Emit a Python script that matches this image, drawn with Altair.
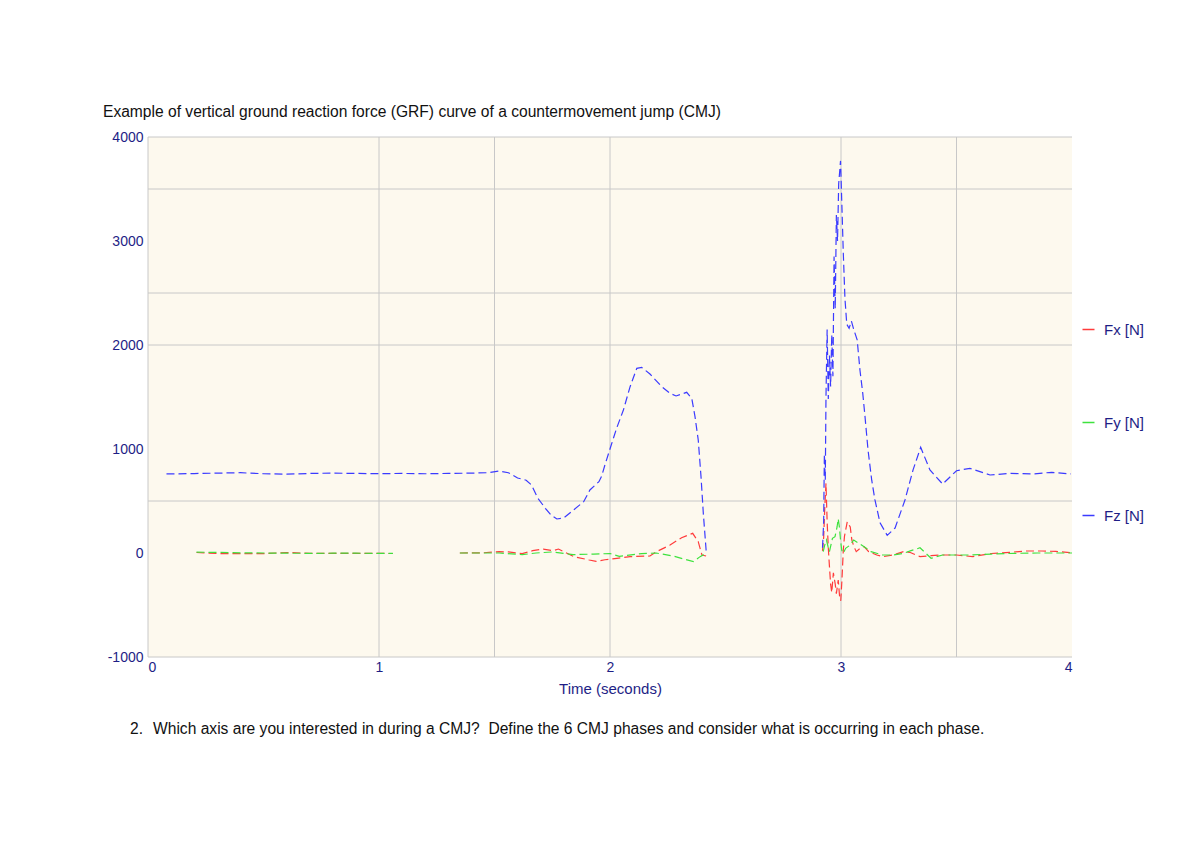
import altair as alt
import pandas as pd

# ---------------- data ----------------
series_names = ["Fx [N]", "Fy [N]", "Fz [N]"]
series_colors = ["#ff3b3b", "#3ee23e", "#3b3bff"]

# Fz (vertical force) - two segments (before take-off, after landing)
fz1_t = [0.08, 0.20, 0.30, 0.40, 0.50, 0.60, 0.70, 0.80, 0.90, 1.00, 1.10, 1.20, 1.30, 1.40, 1.47,
         1.52, 1.56, 1.60, 1.637, 1.66, 1.687, 1.72, 1.745, 1.77, 1.80, 1.84, 1.886, 1.913, 1.952,
         1.964, 1.978, 2.003, 2.029, 2.058, 2.087, 2.116, 2.137, 2.173, 2.224, 2.26, 2.286, 2.332,
         2.354, 2.368, 2.382, 2.394, 2.404, 2.416, 2.42]
fz1_v = [760, 764, 768, 772, 762, 758, 765, 768, 765, 763, 765, 762, 765, 768, 772,
         788, 772, 721, 700, 654, 529, 430, 365, 327, 337, 410, 493, 606, 686,
         740, 846, 1022, 1202, 1375, 1599, 1776, 1785, 1721, 1599, 1535, 1510, 1545,
         1487, 1311, 1087, 734, 381, 29, 0]

fz2_t = [2.920, 2.925, 2.928, 2.932, 2.935, 2.940, 2.945, 2.950, 2.955, 2.960, 2.965, 2.970, 2.975,
         2.980, 2.985, 2.990, 2.998, 3.003, 3.010, 3.017, 3.025, 3.035, 3.045, 3.055, 3.070, 3.082,
         3.094, 3.104, 3.117, 3.133, 3.147, 3.169, 3.200, 3.234, 3.277, 3.312, 3.345, 3.385, 3.440,
         3.500, 3.558, 3.645, 3.732, 3.830, 3.912, 3.995]
fz2_v = [50, 300, 950, 700, 1500, 2150, 1480, 1900, 1600, 2100, 1700, 2850, 2350,
         3250, 3000, 3550, 3770, 3400, 2880, 2450, 2200, 2160, 2230, 2150, 2050, 1760,
         1540, 1310, 990, 700, 510, 290, 170, 240, 510, 800, 1016, 798, 663,
         791, 814, 750, 766, 760, 776, 760]

# Fx - three segments
fx1_t = [0.21, 0.30, 0.40, 0.50, 0.60, 0.70, 0.80, 0.90, 1.00, 1.06]
fx1_v = [5, -5, -6, -6, 5, -3, -4, -3, -4, -5]
fx2_t = [1.35, 1.45, 1.52, 1.56, 1.62, 1.665, 1.711, 1.752, 1.777, 1.80, 1.844, 1.91, 1.94, 1.978,
         2.03, 2.087, 2.173, 2.202, 2.26, 2.31, 2.358, 2.382, 2.398, 2.416]
fx2_v = [0, 2, 13, 10, -6, 22, 38, 22, 38, 13, -35, -67, -80, -65,
         -51, -35, -29, 13, 77, 147, 189, 109, -19, -29]
fx3_t = [2.920, 2.925, 2.930, 2.935, 2.940, 2.945, 2.950, 2.955, 2.960, 2.967, 2.975, 2.980, 2.988,
         2.994, 2.999, 3.004, 3.010, 3.015, 3.027, 3.040, 3.047, 3.055, 3.066, 3.083, 3.100, 3.120,
         3.155, 3.183, 3.225, 3.270, 3.300, 3.342, 3.390, 3.440, 3.500, 3.570, 3.650, 3.730, 3.800,
         3.870, 3.930, 4.000]
fx3_v = [20, 150, 450, 670, 300, 50, -130, -300, -380, -190, -300, -390, -260,
         -420, -460, -260, 30, 160, 300, 250, 125, 67, 13, 45, 61, 13,
         -19, -35, -19, 13, 5, -35, -25, -19, -19, -35, -5, 6, 19,
         19, 15, 3]

# Fy - three segments
fy1_t = [0.21, 0.30, 0.40, 0.50, 0.60, 0.70, 0.80, 0.90, 1.00, 1.06]
fy1_v = [8, 6, 2, 0, -2, -3, -2, -2, -3, -3]
fy2_t = [1.35, 1.52, 1.62, 1.68, 1.75, 1.84, 1.93, 2.00, 2.04, 2.10, 2.137, 2.20, 2.273, 2.361,
         2.39, 2.41]
fy2_v = [0, 0, -16, 0, 10, -16, -10, -5, -32, -16, -6, 0, -29, -83,
         -35, -10]
fy3_t = [2.923, 2.930, 2.937, 2.944, 2.950, 2.963, 2.974, 2.983, 2.988, 2.993, 2.998, 3.003, 3.010,
         3.020, 3.040, 3.055, 3.077, 3.100, 3.130, 3.180, 3.225, 3.270, 3.300, 3.342, 3.390, 3.440,
         3.500, 3.550, 3.650, 3.750, 3.850, 4.000]
fy3_v = [13, 80, 125, 60, 13, 141, 157, 250, 330, 250, 125, 29, -3,
         45, 77, 125, 93, 61, 13, -19, -19, -3, 20, 50, -51, -19,
         -19, -19, -10, -3, 0, 0]

x_ticks = [0, 1, 2, 3, 4]
y_ticks = [-1000, 0, 1000, 2000, 3000, 4000]
x_grid = [0, 1, 1.5, 2, 3, 3.5]
y_grid = [-1000, 500, 2000, 2500, 3500, 4000]

title_text = "Example of vertical ground reaction force (GRF) curve of a countermovement jump (CMJ)"
note_num = "2."
note_text = ("Which axis are you interested in during a CMJ?\u00a0 Define the 6 CMJ phases and "
             "consider what is occurring in each phase.")
x_title = "Time (seconds)"

# ---------------- build table ----------------
rows = []
segs = [
    ("Fx [N]", 1, fx1_t, fx1_v), ("Fx [N]", 2, fx2_t, fx2_v), ("Fx [N]", 3, fx3_t, fx3_v),
    ("Fy [N]", 1, fy1_t, fy1_v), ("Fy [N]", 2, fy2_t, fy2_v), ("Fy [N]", 3, fy3_t, fy3_v),
    ("Fz [N]", 1, fz1_t, fz1_v), ("Fz [N]", 2, fz2_t, fz2_v),
]
for name, sid, ts, vs in segs:
    for t, v in zip(ts, vs):
        rows.append({"series": name, "seg": f"{name}-{sid}", "t": t, "v": v})
df = pd.DataFrame(rows)

FONT = "Liberation Sans"
NAVY = "#1e1e86"
GRID = "#c8c8c8"
TXT = 15.6

xs = alt.Scale(domain=[0, 4], nice=False, zero=False)
ys = alt.Scale(domain=[-1000, 4000], nice=False, zero=False)

xaxis = alt.Axis(values=x_ticks, labelFlush=True, grid=False, domain=False, ticks=False,
                 labelColor=NAVY, labelFontSize=14, labelFont=FONT, labelPadding=3,
                 titleColor=NAVY, titleFontSize=15, titleFont=FONT,
                 titleFontWeight="normal", titlePadding=7,
                 labelExpr="toString(datum.value)")
yaxis = alt.Axis(values=y_ticks, grid=False, domain=False, ticks=False,
                 labelColor=NAVY, labelFontSize=14, labelFont=FONT, labelPadding=5,
                 labelExpr="toString(datum.value)")

vgrid = alt.Chart(pd.DataFrame({"x": x_grid})).mark_rule(color=GRID, strokeWidth=1).encode(
    x=alt.X("x:Q", scale=xs, title=x_title, axis=xaxis)
)
hgrid = alt.Chart(pd.DataFrame({"y": y_grid})).mark_rule(color=GRID, strokeWidth=1).encode(
    y=alt.Y("y:Q", scale=ys, title=None, axis=yaxis)
)

lines = alt.Chart(df).mark_line(strokeWidth=1.2, strokeDash=[8, 4]).encode(
    x=alt.X("t:Q", scale=xs, title=x_title, axis=xaxis),
    y=alt.Y("v:Q", scale=ys, title=None, axis=yaxis),
    color=alt.Color("series:N", scale=alt.Scale(domain=series_names, range=series_colors),
                    legend=alt.Legend(title=None, orient="none", legendX=933, legendY=185,
                                      symbolType="stroke", symbolSize=144, symbolStrokeWidth=1.5,
                                      symbolDash=[1, 0], labelFont=FONT, labelFontSize=15,
                                      labelColor=NAVY, labelOffset=8, rowPadding=77, padding=0)),
    detail="seg:N",
    order="t:Q",
)

title_mark = alt.Chart(pd.DataFrame({"s": [title_text]})).mark_text(
    align="left", baseline="alphabetic", font=FONT, fontSize=TXT, color="#111111"
).encode(x=alt.value(-45), y=alt.value(-20), text="s:N")

note_a = alt.Chart(pd.DataFrame({"s": [note_num]})).mark_text(
    align="left", baseline="alphabetic", font=FONT, fontSize=TXT, color="#111111"
).encode(x=alt.value(-18), y=alt.value(597), text="s:N")

note_b = alt.Chart(pd.DataFrame({"s": [note_text]})).mark_text(
    align="left", baseline="alphabetic", font=FONT, fontSize=TXT, color="#111111"
).encode(x=alt.value(5), y=alt.value(597), text="s:N")

chart = alt.layer(vgrid, hgrid, lines, title_mark, note_a, note_b).properties(
    width=924, height=520,
    autosize=alt.AutoSizeParams(type="none"),
    padding={"left": 140, "top": 129, "right": 120, "bottom": 180},
    background="white",
).configure_view(fill="#fdf9ee", stroke=None)

chart.save("out.html", embed_options={"renderer": "svg", "actions": False})
